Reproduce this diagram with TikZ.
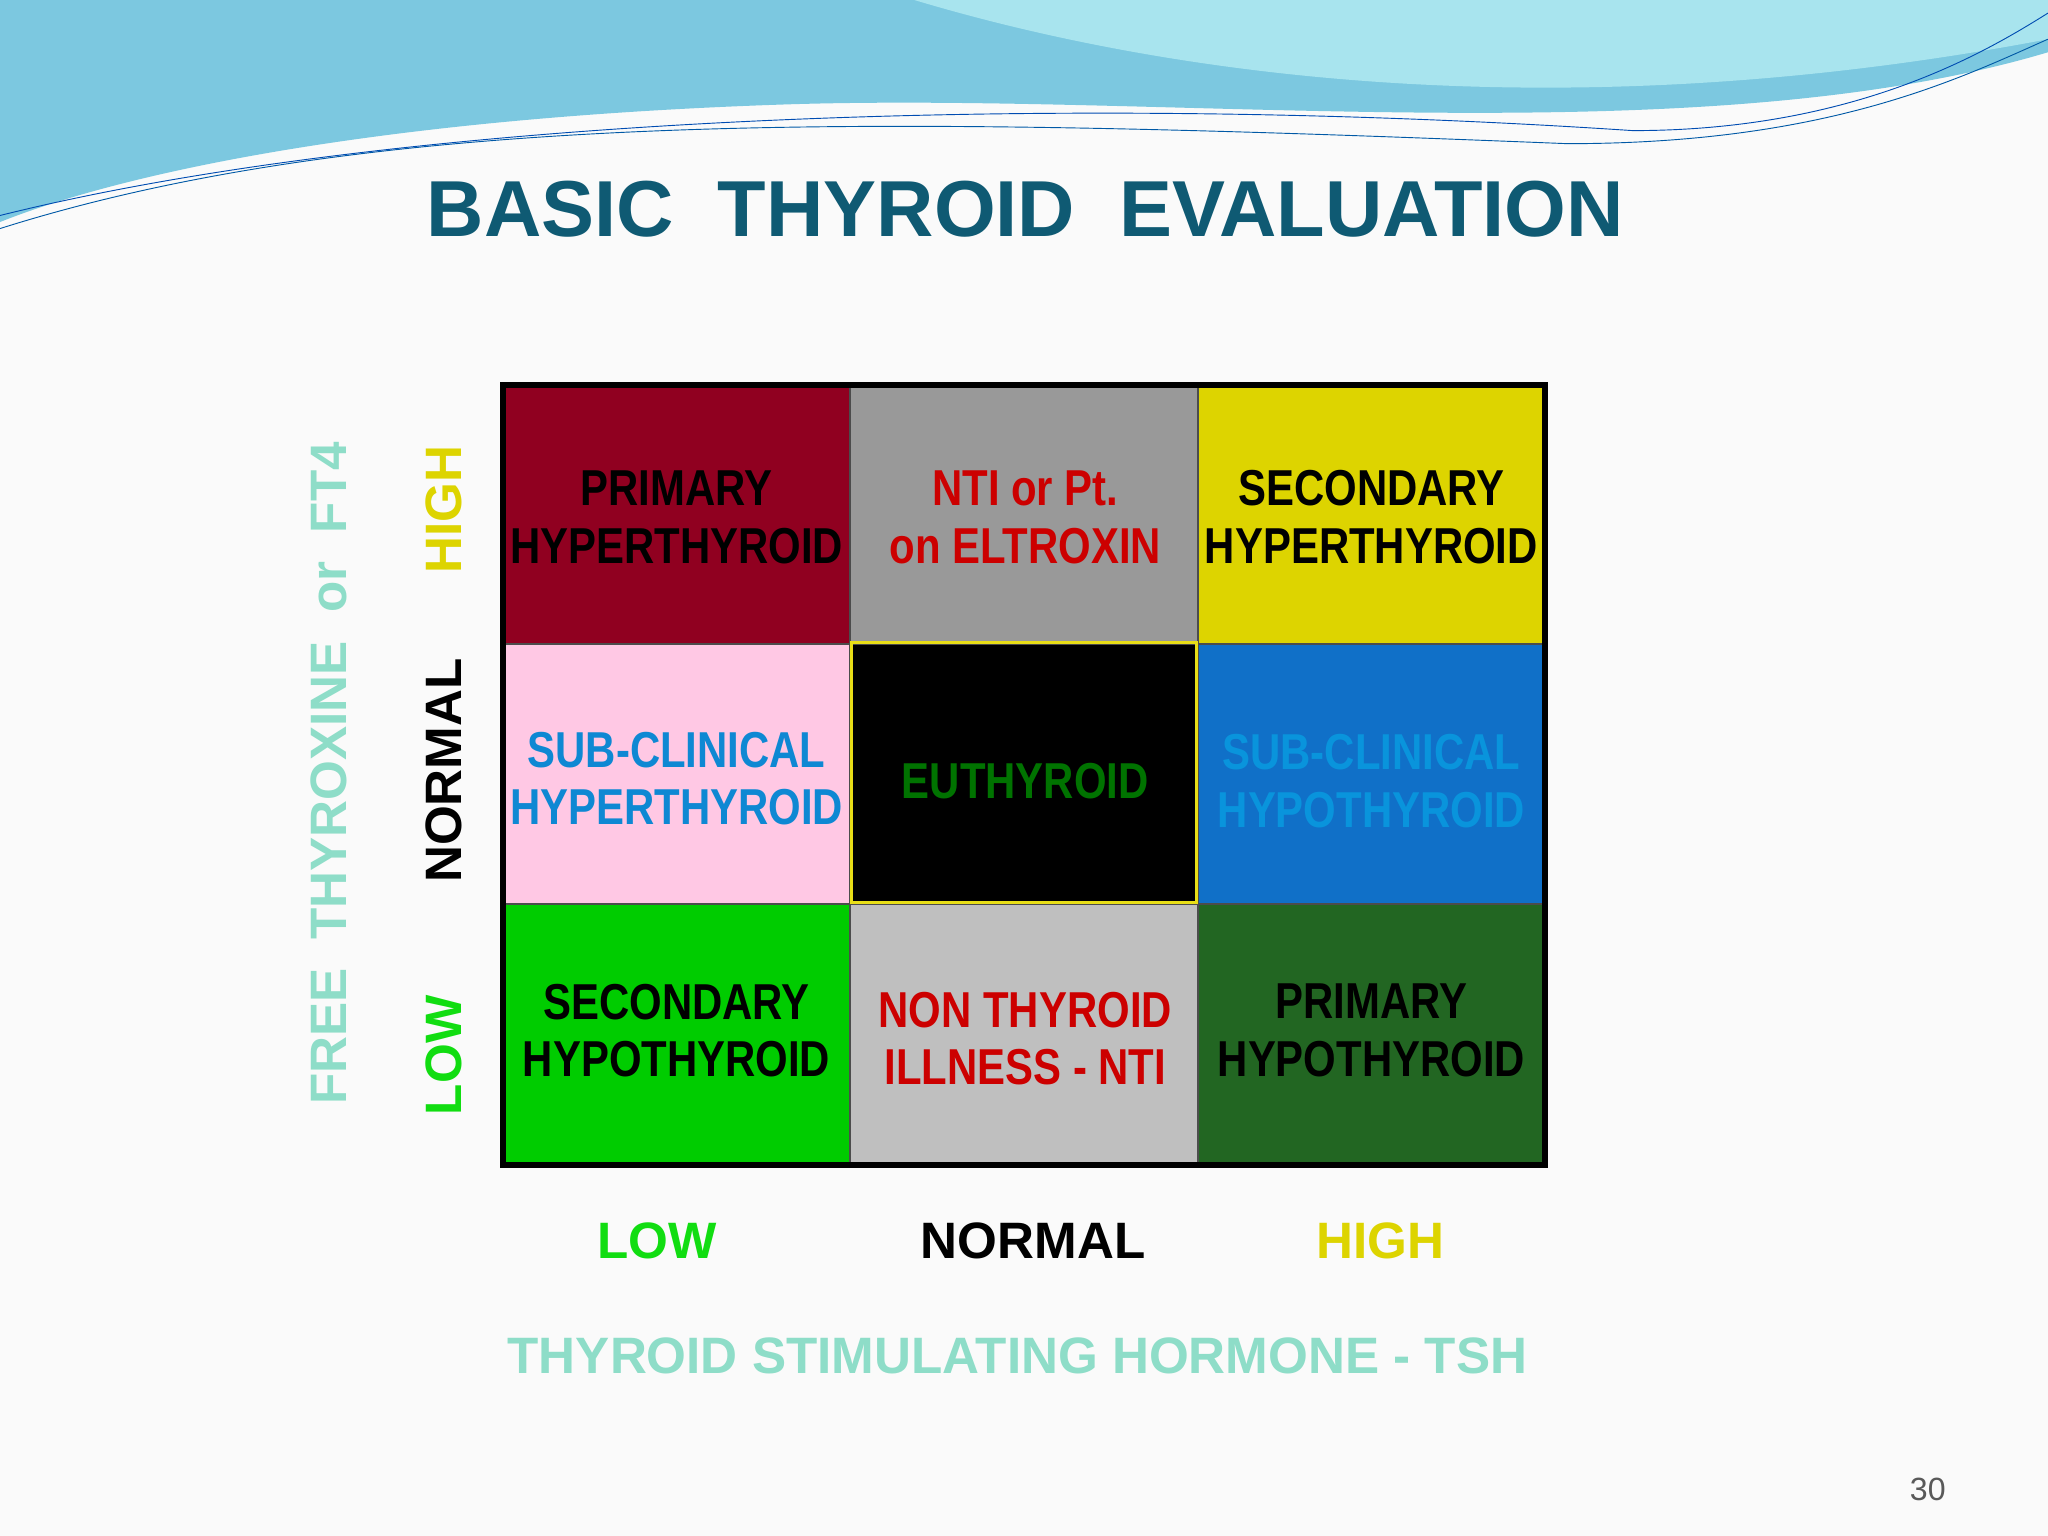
\documentclass[tikz,border=0pt]{standalone}
\usepackage{fontspec}
\setmainfont{Liberation Sans}
\newfontfamily\narrowf[FakeStretch=0.83]{Liberation Sans}
\begin{document}
\begin{tikzpicture}[x=0.02cm,y=-0.02cm,
  cell/.style={font=\narrowf\bfseries\fontsize{22}{25}\selectfont,align=center},
  axl/.style={font=\bfseries\fontsize{22.3}{26}\selectfont}]
\definecolor{titlec}{HTML}{0F5A73}
\definecolor{mint}{HTML}{8EDDC8}
\definecolor{lgreen}{HTML}{11DD11}
\definecolor{yel}{HTML}{DDD400}
\definecolor{wave1}{HTML}{7CC8E0}
\definecolor{wave2}{HTML}{A8E4EE}
\definecolor{dred}{HTML}{900020}
\definecolor{pinkc}{HTML}{FFC8E4}
\definecolor{bluec}{HTML}{1070C8}
\definecolor{dgreen}{HTML}{226622}
\useasboundingbox (0,0) rectangle (1568,1176);
\fill[white!96!gray] (0,0) rectangle (1568,1176);
% top waves
\fill[wave1] (0,0) -- (1568,0) -- (1568,40) .. controls (1300,120) and (900,70) .. (600,80) .. controls (300,90) and (100,130) .. (0,170) -- cycle;
\fill[wave2] (700,0) .. controls (900,60) and (1200,100) .. (1568,30) -- (1568,0) -- cycle;
\draw[teal!70!blue, thin] (0,175) .. controls (300,80) and (700,90) .. (1200,110) .. controls (1400,110) and (1500,60) .. (1568,30);
\draw[teal!60!blue, thin] (0,165) .. controls (300,90) and (800,70) .. (1250,100) .. controls (1420,100) and (1520,40) .. (1568,10);
\node[font=\bfseries\fontsize{34.6}{40}\selectfont, text=titlec] (title) at (785,160) {BASIC\ \ THYROID\ \ EVALUATION};
% cells
\fill[dred] (385,295) rectangle (651,493);
\fill[gray!80] (651,295) rectangle (917,493);
\fill[yel] (917,295) rectangle (1183,493);
\fill[pinkc] (385,493) rectangle (651,692);
\fill[black] (651,493) rectangle (917,692);
\fill[bluec] (917,493) rectangle (1183,692);
\fill[green!80!black] (385,692) rectangle (651,892);
\fill[gray!50] (651,692) rectangle (917,892);
\fill[dgreen] (917,692) rectangle (1183,892);
\draw[gray!60!black,thick] (651,295)--(651,892) (917,295)--(917,892) (385,493)--(1183,493) (385,692)--(1183,692);
\draw[yellow!90!black,line width=1.5pt] (652,492) rectangle (916,691);
\draw[black,line width=2.5pt] (385,295) rectangle (1183,892);
\node[cell,text=black] (c11) at (518,396) {PRIMARY\\HYPERTHYROID};
\node[cell,text=red!80!black] (c12) at (785,396) {NTI or Pt.\\on ELTROXIN};
\node[cell,text=black] (c13) at (1050,396) {SECONDARY\\HYPERTHYROID};
\node[cell,text=cyan!70!blue] (c21) at (518,596) {SUB-CLINICAL\\HYPERTHYROID};
\node[cell,text=green!45!black] (c22) at (785,598) {EUTHYROID};
\node[cell,text=cyan!80!blue] (c23) at (1050,598) {SUB-CLINICAL\\HYPOTHYROID};
\node[cell,text=black] (c31) at (518,789) {SECONDARY\\HYPOTHYROID};
\node[cell,text=red!80!black] (c32) at (785,795) {NON THYROID\\ILLNESS - NTI};
\node[cell,text=black] (c33) at (1050,789) {PRIMARY\\HYPOTHYROID};
% axes
\node[axl,text=lgreen] (xl) at (503,950) {LOW};
\node[axl,text=black] (xn) at (791,950) {NORMAL};
\node[axl,text=yel] (xh) at (1057,950) {HIGH};
\node[axl,text=mint] (xt) at (779,1038) {THYROID STIMULATING HORMONE - TSH};
\node[axl,text=yel,rotate=90] (yh) at (340,390) {HIGH};
\node[axl,text=black,rotate=90] (yn) at (340,590) {NORMAL};
\node[axl,text=lgreen,rotate=90] (yl) at (340,808) {LOW};
\node[axl,text=mint,rotate=90] (yt) at (252,592) {FREE\ \ THYROXINE\ \ or\ \ FT4};
\node[font=\fontsize{14}{16}\selectfont,text=gray!70!black] (pg) at (1476,1140) {30};
\end{tikzpicture}
\end{document}
